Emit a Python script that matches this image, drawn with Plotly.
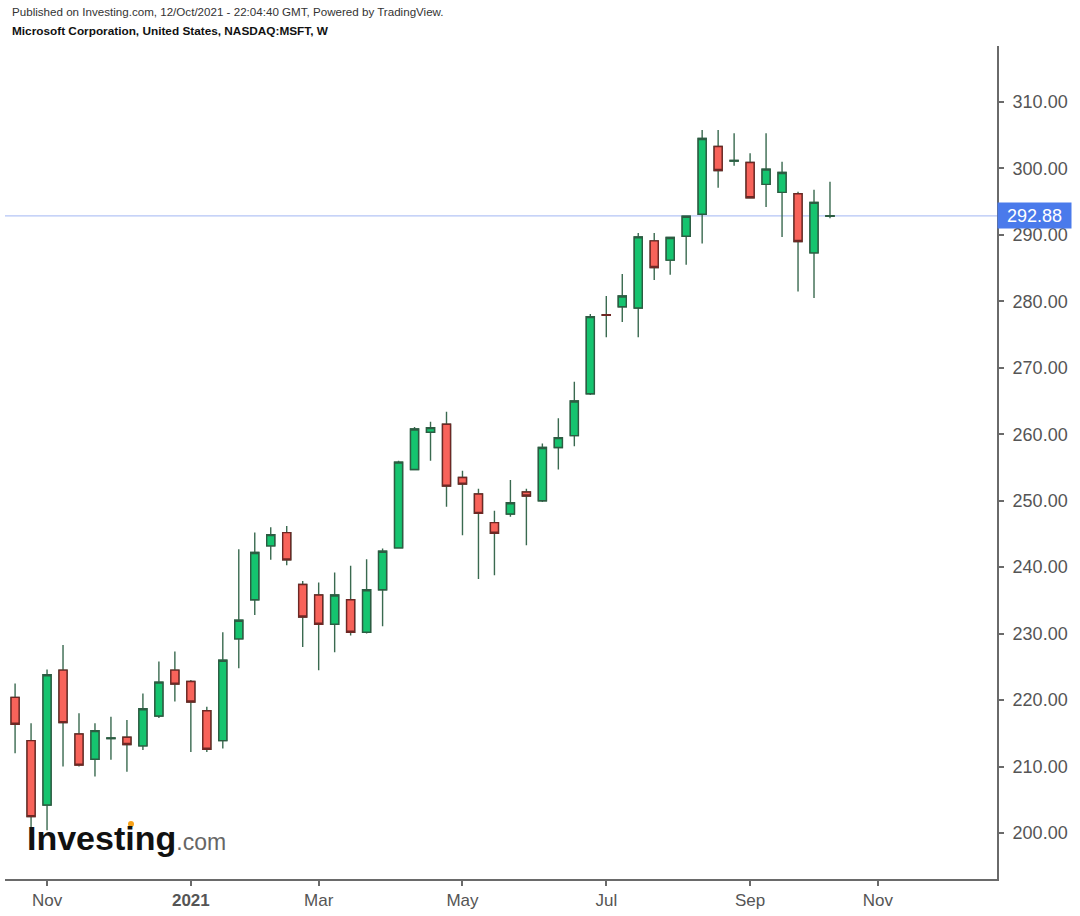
import plotly.graph_objects as go

# ---------------- data (weekly MSFT candles) ----------------
dates = [
    "2020-10-19", "2020-10-26", "2020-11-02", "2020-11-09", "2020-11-16", "2020-11-23",
    "2020-11-30", "2020-12-07", "2020-12-14", "2020-12-21", "2020-12-28", "2021-01-04",
    "2021-01-11", "2021-01-18", "2021-01-25", "2021-02-01", "2021-02-08", "2021-02-15",
    "2021-02-22", "2021-03-01", "2021-03-08", "2021-03-15", "2021-03-22", "2021-03-29",
    "2021-04-05", "2021-04-12", "2021-04-19", "2021-04-26", "2021-05-03", "2021-05-10",
    "2021-05-17", "2021-05-24", "2021-05-31", "2021-06-07", "2021-06-14", "2021-06-21",
    "2021-06-28", "2021-07-05", "2021-07-12", "2021-07-19", "2021-07-26", "2021-08-02",
    "2021-08-09", "2021-08-16", "2021-08-23", "2021-08-30", "2021-09-06", "2021-09-13",
    "2021-09-20", "2021-09-27", "2021-10-04", "2021-10-11",
]
opens = [
    220.4, 213.9, 204.2, 224.5, 214.9, 211.1, 214.2, 214.4, 213.1, 217.6, 224.5, 222.8,
    218.4, 213.9, 229.2, 235.1, 243.2, 245.2, 237.4, 235.8, 231.4, 235.1, 230.2, 236.6,
    242.9, 254.7, 260.3, 261.5, 253.5, 251.0, 246.7, 248.0, 251.3, 250.0, 258.0, 259.8,
    266.1, 278.0, 279.2, 279.0, 289.1, 286.2, 289.8, 293.1, 303.3, 301.1, 300.9, 297.6,
    296.4, 296.2, 287.3, 292.8,
]
highs = [
    222.5, 216.5, 224.6, 228.3, 218.0, 216.5, 217.5, 217.0, 221.0, 225.8, 227.3, 223.0,
    219.0, 230.2, 242.7, 245.2, 246.0, 246.2, 237.9, 237.7, 239.2, 240.2, 241.2, 242.8,
    256.0, 261.1, 261.9, 263.4, 254.5, 251.8, 248.5, 253.1, 251.8, 258.6, 262.4, 267.9,
    278.1, 280.8, 284.1, 290.3, 290.3, 289.7, 292.9, 305.8, 305.8, 305.3, 302.3, 305.3,
    301.0, 296.5, 296.8, 298.0,
]
lows = [
    212.0, 200.5, 200.4, 210.0, 210.0, 208.5, 211.0, 209.2, 212.5, 217.3, 219.8, 212.2,
    212.2, 212.7, 224.8, 232.8, 241.1, 240.3, 228.0, 224.5, 227.2, 229.7, 230.0, 231.1,
    242.8, 254.6, 256.0, 249.1, 244.8, 238.2, 238.8, 247.6, 243.3, 249.8, 254.7, 258.2,
    265.9, 274.6, 276.9, 274.6, 283.2, 284.0, 285.5, 288.7, 297.1, 300.4, 295.5, 294.2,
    289.7, 281.5, 280.5, 292.5,
]
closes = [
    216.35, 202.45, 223.8, 216.6, 210.2, 215.4, 214.3, 213.3, 218.7, 222.7, 222.4, 219.7,
    212.6, 226.0, 232.0, 242.2, 244.9, 241.1, 232.5, 231.4, 235.8, 230.2, 236.6, 242.4,
    255.8, 260.8, 261.0, 252.2, 252.5, 248.1, 245.1, 249.7, 250.7, 258.0, 259.5, 265.0,
    277.7, 277.9, 280.8, 289.7, 285.1, 289.6, 292.8, 304.5, 299.7, 301.2, 295.6, 299.9,
    299.4, 289.0, 294.9, 292.88,
]

tick_dates = ["2020-11-02", "2021-01-04", "2021-03-01", "2021-05-03",
              "2021-07-05", "2021-09-06", "2021-11-01"]
tick_labels = ["Nov", "<b>2021</b>", "Mar", "May", "Jul", "Sep", "Nov"]
y_ticks = [200, 210, 220, 230, 240, 250, 260, 270, 280, 290, 300, 310]
last_price = 292.88

# ---------------- styles ----------------
FONT = "Liberation Sans, Arial, Helvetica, sans-serif"
GREEN = "#15C46F"
RED = "#F8635A"
GREEN_EDGE = "#2C5C42"
RED_EDGE = "#6E2724"
WICK = "#3A6A50"
AXIS = "#6a6a6a"
LABEL = "#555555"

W, H = 1080, 916
ML, MR, MT, MB = 5, 83, 46, 37
PW, PH = W - ML - MR, H - MT - MB


def px_x(px):
    return (px - ML) / PW


def px_y(py):
    return (H - MB - py) / PH


body_top = [max(o, c) for o, c in zip(opens, closes)]
body_bot = [min(o, c) for o, c in zip(opens, closes)]

fig = go.Figure()
# full candles: wicks + body fill
fig.add_trace(go.Candlestick(
    x=dates, open=opens, high=highs, low=lows, close=closes,
    increasing=dict(line=dict(color=WICK, width=1.4), fillcolor=GREEN),
    decreasing=dict(line=dict(color=WICK, width=1.4), fillcolor=RED),
    whiskerwidth=0, showlegend=False, hoverinfo="skip",
))
# bodies on top with their own outline colours
fig.add_trace(go.Candlestick(
    x=dates, open=opens, high=body_top, low=body_bot, close=closes,
    increasing=dict(line=dict(color=GREEN_EDGE, width=1.4), fillcolor=GREEN),
    decreasing=dict(line=dict(color=RED_EDGE, width=1.4), fillcolor=RED),
    whiskerwidth=0, showlegend=False, hoverinfo="skip",
))

fig.update_layout(
    width=W, height=H,
    margin=dict(l=ML, r=MR, t=MT, b=MB, autoexpand=False),
    paper_bgcolor="white", plot_bgcolor="white",
    font=dict(family=FONT, color=LABEL),
    boxgap=0.28,
    xaxis=dict(
        type="date",
        range=["2020-10-14 14:00", "2021-12-23 04:00"],
        tickvals=tick_dates, ticktext=tick_labels,
        ticks="outside", ticklen=5, tickwidth=1.5, tickcolor=AXIS,
        showline=True, linecolor=AXIS, linewidth=2,
        showgrid=False, zeroline=False,
        tickfont=dict(size=17, color=LABEL, family=FONT),
        rangeslider=dict(visible=False),
        fixedrange=True,
    ),
    yaxis=dict(
        side="right",
        range=[193.07, 318.43],
        tickvals=y_ticks, tickformat=".2f",
        ticks="outside", ticklen=5, tickwidth=1.5, tickcolor=AXIS,
        showline=True, linecolor=AXIS, linewidth=2,
        showgrid=False, zeroline=False,
        tickfont=dict(size=18, color=LABEL, family=FONT),
        ticklabelstandoff=5,
    ),
    shapes=[
        dict(type="line", xref="paper", x0=0, x1=1, yref="y",
             y0=last_price, y1=last_price,
             line=dict(color="#b4c5f6", width=1.3), layer="below"),
        dict(type="circle", xref="paper", yref="paper",
             x0=px_x(128), x1=px_x(134), y0=px_y(827), y1=px_y(821),
             fillcolor="#F7A21B", line=dict(width=0), layer="above"),
    ],
    annotations=[
        dict(text="Published on Investing.com, 12/Oct/2021 - 22:04:40 GMT, Powered by TradingView.",
             xref="paper", yref="paper", x=px_x(10), y=px_y(12),
             xanchor="left", yanchor="middle", showarrow=False,
             font=dict(size=11.6, color="#333333", family=FONT)),
        dict(text="<b>Microsoft Corporation, United States, NASDAQ:MSFT, W</b>",
             xref="paper", yref="paper", x=px_x(10), y=px_y(31),
             xanchor="left", yanchor="middle", showarrow=False,
             font=dict(size=11.8, color="#111111", family=FONT)),
        dict(text="<b>Investing</b><span style='font-size:23px;color:#666666'>.com</span>",
             xref="paper", yref="paper", x=px_x(25), y=px_y(838),
             xanchor="left", yanchor="middle", showarrow=False,
             font=dict(size=34, color="#111111", family=FONT)),
        dict(text="%.2f" % last_price,
             xref="paper", yref="y", x=1, y=last_price,
             xanchor="left", yanchor="middle", showarrow=False,
             bgcolor="#4A7AEB", width=69, height=21, borderpad=2, align="center",
             font=dict(size=18, color="white", family=FONT)),
    ],
)

fig.write_html("out.html")
